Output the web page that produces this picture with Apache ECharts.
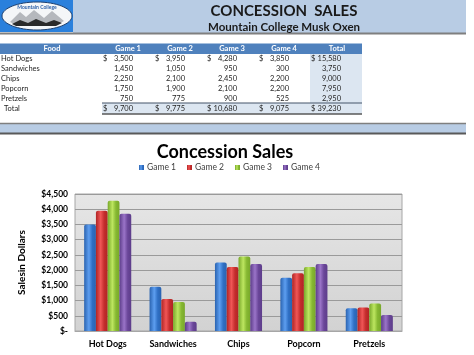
<!DOCTYPE html>
<html>
<head>
<meta charset="utf-8">
<script src="https://cdn.jsdelivr.net/npm/echarts@6/dist/echarts.min.js"></script>
<style>
html,body{margin:0;padding:0;background:#fff;}
#c{width:474px;height:355px;}
</style>
</head>
<body>
<div id="c"></div>
<script>
// ---- data ----
var categories = ['Hot Dogs', 'Sandwiches', 'Chips', 'Popcorn', 'Pretzels'];
var seriesNames = ['Game 1', 'Game 2', 'Game 3', 'Game 4'];
var game1 = [3500, 1450, 2250, 1750, 750];
var game2 = [3950, 1050, 2100, 1900, 775];
var game3 = [4280, 950, 2450, 2100, 900];
var game4 = [3850, 300, 2200, 2200, 525];
var rowTotals = [15580, 3750, 9000, 7950, 2950];
var colTotals = [9700, 9775, 10680, 9075, 39230];
var tableHeaders = ['Food', 'Game 1', 'Game 2', 'Game 3', 'Game 4', 'Total'];
var yTicks = [0, 500, 1000, 1500, 2000, 2500, 3000, 3500, 4000, 4500];

var FONT = 'Lato, "Open Sans", sans-serif';
var colors = [
  ['#2a63b0', '#5d9ef0', '#2f6fc4'],
  ['#b02424', '#f05656', '#c42d2d'],
  ['#78a82a', '#bde660', '#86b832'],
  ['#5d3d8a', '#9a74c8', '#6a4699']
];
var legendColors = ['#3d7fd4', '#d9363a', '#9fcf3e', '#7d58ac'];

function fmt(n) { return n.toLocaleString('en-US'); }

var g = [];
// Logo
g.push({type: 'rect', shape: {x: 0, y: 0, width: 73, height: 32}, style: {fill: '#2a80dc'}});
g.push({type: 'ellipse', shape: {cx: 37, cy: 16, rx: 35, ry: 14}, style: {fill: '#f4f6f8', stroke: '#1d3f6e', lineWidth: 1}});
g.push({type: 'text', style: {x: 37, y: 7, text: 'Mountain College', fontSize: 5, fontWeight: 'bold', fill: '#2a5fa8', align: 'center', verticalAlign: 'middle', fontFamily: FONT}});
g.push({type: 'polygon', shape: {points: [[10, 22], [20, 12], [26, 17], [34, 10], [44, 18], [52, 11], [64, 21], [58, 24], [14, 24]]}, style: {fill: '#b5b8bd'}});
g.push({type: 'polygon', shape: {points: [[12, 24], [20, 20], [28, 23], [36, 19], [46, 23], [54, 20], [62, 23], [56, 26], [16, 26]]}, style: {fill: '#2a2a2a'}});
// Title band
g.push({type: 'rect', shape: {x: 73, y: 0, width: 393, height: 33}, style: {fill: '#b8cce4'}});
g.push({type: 'line', shape: {x1: 0, y1: 33.5, x2: 466, y2: 33.5}, style: {stroke: '#7f7f7f', lineWidth: 2}});
g.push({type: 'text', style: {x: 284, y: 11, text: 'CONCESSION  SALES', fontSize: 15, fontWeight: 'bold', fill: '#1a1a1a', align: 'center', verticalAlign: 'middle', fontFamily: FONT}});
g.push({type: 'text', style: {x: 284, y: 27, text: 'Mountain College Musk Oxen', fontSize: 11.5, fontWeight: 'bold', fill: '#1a1a1a', align: 'center', verticalAlign: 'middle', fontFamily: FONT}});

// Table
var colStart = [102, 154, 206, 258, 310];
var rowY = [59, 69, 79, 89, 99];
var totalY = 109;
g.push({type: 'rect', shape: {x: 0, y: 43.5, width: 362, height: 10.5}, style: {fill: '#4f81bd'}});
g.push({type: 'rect', shape: {x: 310, y: 54, width: 52, height: 49}, style: {fill: '#dce6f1'}});
g.push({type: 'rect', shape: {x: 102, y: 103, width: 260, height: 11}, style: {fill: '#dce6f1'}});
g.push({type: 'line', shape: {x1: 102, y1: 103, x2: 362, y2: 103}, style: {stroke: '#44546a', lineWidth: 1.2}});
g.push({type: 'line', shape: {x1: 102, y1: 114, x2: 362, y2: 114}, style: {stroke: '#595959', lineWidth: 1.5}});
var hdrX = [52, 128, 180, 232, 284, 337];
tableHeaders.forEach(function (h, i) {
  g.push({type: 'text', style: {x: hdrX[i], y: 49, text: h, fontSize: 7.5, fontWeight: 'bold', fill: '#ffffff', align: 'center', verticalAlign: 'middle', fontFamily: FONT}});
});
var cols = [game1, game2, game3, game4, rowTotals];
function cellText(txt, x, y, align) {
  g.push({type: 'text', style: {x: x, y: y, text: txt, fontSize: 7.5, fill: '#262626', align: align, verticalAlign: 'middle', fontFamily: FONT}});
}
categories.forEach(function (c, r) {
  cellText(c, 1, rowY[r], 'left');
  cols.forEach(function (arr, ci) {
    if (r === 0) cellText('$', colStart[ci] + 1, rowY[r], 'left');
    cellText(fmt(arr[r]), colStart[ci] + 31, rowY[r], 'right');
  });
});
cellText('Total', 4, totalY, 'left');
colTotals.forEach(function (v, ci) {
  cellText('$', colStart[ci] + 1, totalY, 'left');
  cellText(fmt(v), colStart[ci] + 31, totalY, 'right');
});

// separator band
g.push({type: 'rect', shape: {x: 0, y: 123, width: 466, height: 11}, style: {fill: '#b8cce4'}});
g.push({type: 'line', shape: {x1: 0, y1: 123.5, x2: 466, y2: 123.5}, style: {stroke: '#7f7f7f', lineWidth: 1.5}});
g.push({type: 'line', shape: {x1: 0, y1: 133.5, x2: 466, y2: 133.5}, style: {stroke: '#595959', lineWidth: 2}});

// chart title
g.push({type: 'text', style: {x: 225, y: 152, text: 'Concession Sales', fontSize: 18, fontWeight: 'bold', fill: '#000', align: 'center', verticalAlign: 'middle', fontFamily: FONT}});

var chart = echarts.init(document.getElementById('c'), null, {renderer: 'canvas'});
var data = [game1, game2, game3, game4];
var series = data.map(function (d, i) {
  return {
    name: seriesNames[i],
    type: 'bar',
    data: d,
    barGap: '0%',
    barCategoryGap: '28%',
    itemStyle: {
      borderRadius: [2, 2, 0, 0],
      color: new echarts.graphic.LinearGradient(0, 0, 1, 0, [
        {offset: 0, color: colors[i][0]},
        {offset: 0.4, color: colors[i][1]},
        {offset: 0.7, color: colors[i][2]},
        {offset: 1, color: colors[i][0]}
      ])
    },
    emphasis: {disabled: true}
  };
});

chart.setOption({
  animation: false,
  backgroundColor: '#ffffff',
  color: legendColors,
  legend: {
    data: seriesNames,
    left: 139,
    top: 163,
    itemWidth: 5,
    itemHeight: 5,
    itemGap: 11,
    icon: 'rect',
    textStyle: {fontSize: 8.5, color: '#404040', fontFamily: FONT, padding: [0, 0, 0, -2]},
    padding: 0
  },
  grid: {
    left: 75, top: 194, width: 327, height: 137,
    show: true,
    borderColor: '#a6a6a6',
    borderWidth: 1,
    backgroundColor: new echarts.graphic.LinearGradient(0, 0, 0, 1, [
      {offset: 0, color: '#e6e6e6'},
      {offset: 1, color: '#d2d2d2'}
    ])
  },
  xAxis: {
    type: 'category',
    data: categories,
    axisLine: {show: true, lineStyle: {color: '#a6a6a6'}},
    axisTick: {show: false},
    axisLabel: {fontSize: 9, fontWeight: 'bold', color: '#000', fontFamily: FONT, margin: 9}
  },
  yAxis: {
    type: 'value',
    min: yTicks[0],
    max: yTicks[yTicks.length - 1],
    interval: yTicks[1] - yTicks[0],
    name: 'Salesin Dollars',
    nameLocation: 'middle',
    nameRotate: 90,
    nameGap: 48,
    nameTextStyle: {fontSize: 10, fontWeight: 'bold', color: '#000', fontFamily: FONT},
    axisLine: {show: false},
    axisTick: {show: false},
    splitLine: {lineStyle: {color: '#9a9a9a', width: 1}},
    axisLabel: {
      fontSize: 8.5, fontWeight: 'bold', color: '#000', fontFamily: FONT, margin: 7,
      formatter: function (v) { return v === 0 ? '$-' : '$' + fmt(v); }
    }
  },
  series: series,
  graphic: g
});
</script>
</body>
</html>
